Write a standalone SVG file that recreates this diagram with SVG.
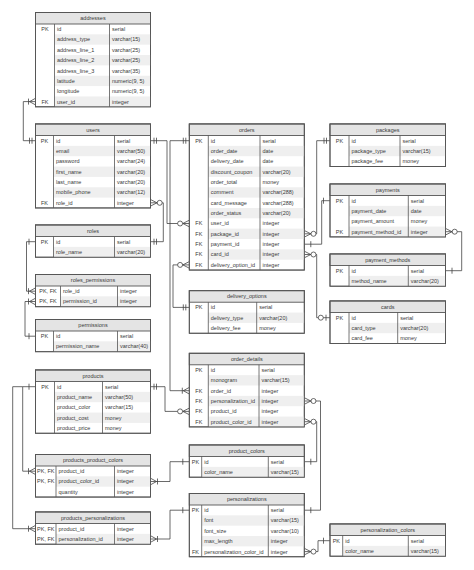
<svg xmlns="http://www.w3.org/2000/svg" width="474" height="570" viewBox="0 0 474 570">
<style>
text{font-family:"Liberation Sans",Arial,sans-serif;font-size:5.5px;fill:#3a3a3a}
.k,.h{text-anchor:middle}
.box{fill:#fff;stroke:#555;stroke-width:0.9}
.hd{fill:#e4e4e4;stroke:#555;stroke-width:0.9}
.alt{fill:#efefef}
.dv{stroke:#555;stroke-width:0.8;fill:none}
.cn path{fill:none;stroke:#444;stroke-width:0.8}
.mk{fill:none;stroke:#444;stroke-width:0.8}
.mc{fill:#fff;stroke:#444;stroke-width:0.8}
</style>
<defs>
<marker id="one2" viewBox="-14 -6 16 12" markerWidth="16" markerHeight="12" markerUnits="userSpaceOnUse" refX="0" refY="0" orient="auto-start-reverse"><path class="mk" d="M-3.5,-3V3M-6,-3V3"/></marker>
<marker id="one" viewBox="-14 -6 16 12" markerWidth="16" markerHeight="12" markerUnits="userSpaceOnUse" refX="0" refY="0" orient="auto-start-reverse"><path class="mk" d="M-6.5,-3V3"/></marker>
<marker id="many0" viewBox="-14 -6 16 12" markerWidth="16" markerHeight="12" markerUnits="userSpaceOnUse" refX="0" refY="0" orient="auto-start-reverse"><path class="mk" d="M0,-3.3L-6.5,0L0,3.3"/><circle class="mc" cx="-9.2" cy="0" r="2.5"/></marker>
<marker id="many1" viewBox="-14 -6 16 12" markerWidth="16" markerHeight="12" markerUnits="userSpaceOnUse" refX="0" refY="0" orient="auto-start-reverse"><path class="mk" d="M0,-3.3L-6,0L0,3.3M-7,-3V3"/></marker>
<marker id="zero1" viewBox="-14 -6 16 12" markerWidth="16" markerHeight="12" markerUnits="userSpaceOnUse" refX="0" refY="0" orient="auto-start-reverse"><path class="mk" d="M-4,-3V3"/><circle class="mc" cx="-9.2" cy="0" r="2.5"/></marker>
</defs>

<g class="cn" id="connectors">
<path d="M35.5,140.7H23.3V101.6H35.5" marker-start="url(#one2)" marker-end="url(#many1)"/>
<path d="M150.5,140.7H167V223.5H189.3" marker-start="url(#one2)" marker-end="url(#many0)"/>
<path d="M150.5,202.8H163.3V241.7H150.5" marker-start="url(#many0)" marker-end="url(#one2)"/>
<path d="M189.3,140.7H170V390.7H189.3" marker-start="url(#one2)" marker-end="url(#many1)"/>
<path d="M189.3,264.9H173V307.4H189.3" marker-start="url(#many0)" marker-end="url(#one2)"/>
<path d="M35.5,241.7H26.5V291.2H35.5" marker-start="url(#one)" marker-end="url(#many1)"/>
<path d="M35.5,336.2H25V301.5H35.5" marker-start="url(#one)" marker-end="url(#many1)"/>
<path d="M35.5,386.7H22.7V471.2H35.5" marker-start="url(#one)" marker-end="url(#many1)"/>
<path d="M22.7,386.7H12.7V528.7H35.5" marker-end="url(#many1)"/>
<path d="M150.5,386.7H165V411.4H189.3" marker-start="url(#one2)" marker-end="url(#many0)"/>
<path d="M189.3,461.7H170V481.5H150.5" marker-start="url(#one)" marker-end="url(#many1)"/>
<path d="M189.3,510.2H170V539H150.5" marker-start="url(#one)" marker-end="url(#many1)"/>
<path d="M304.3,461.7H316.7V421.7H304.3" marker-start="url(#one)" marker-end="url(#many0)"/>
<path d="M304.3,510.2H320.5V401H304.3" marker-start="url(#one)" marker-end="url(#many0)"/>
<path d="M330,540.7H318V551.6H304.3" marker-start="url(#one)" marker-end="url(#many0)"/>
<path d="M330,140.7H316.7V233.8H304.3" marker-start="url(#one2)" marker-end="url(#many0)"/>
<path d="M330,200.7H321.7V244.2H304.3" marker-start="url(#one)" marker-end="url(#one)"/>
<path d="M330,317.7H316.7V254.5H304.3" marker-start="url(#zero1)" marker-end="url(#many0)"/>
<path d="M445.5,270.7H461.7V231.7H445.5" marker-start="url(#one)" marker-end="url(#many0)"/>
</g>

<g id="addresses" transform="translate(35.5,12.5)">
<rect class="box" width="115" height="94.3"/>
<rect class="alt" x="19" y="21.85" width="96" height="10.35"/><rect class="alt" x="19" y="42.55" width="96" height="10.35"/><rect class="alt" x="19" y="63.25" width="96" height="10.35"/><rect class="alt" x="19" y="83.95" width="96" height="10.35"/>
<rect class="hd" width="115" height="11.5"/>
<path class="dv" d="M19,11.5V94.3M74,11.5V94.3"/>
<rect class="box" width="115" height="94.3" fill="none" style="fill:none"/>
<text class="h" x="57.5" y="7.65">addresses</text>
<text class="k" x="9.5" y="18.6">PK</text><text x="21.5" y="18.6">id</text><text x="76.5" y="18.6">serial</text>
<text x="21.5" y="28.9">address_type</text><text x="76.5" y="28.9">varchar(15)</text>
<text x="21.5" y="39.3">address_line_1</text><text x="76.5" y="39.3">varchar(25)</text>
<text x="21.5" y="49.6">address_line_2</text><text x="76.5" y="49.6">varchar(25)</text>
<text x="21.5" y="60">address_line_3</text><text x="76.5" y="60">varchar(35)</text>
<text x="21.5" y="70.3">latitude</text><text x="76.5" y="70.3">numeric(9, 5)</text>
<text x="21.5" y="80.7">longitude</text><text x="76.5" y="80.7">numeric(9, 5)</text>
<text class="k" x="9.5" y="91">FK</text><text x="21.5" y="91">user_id</text><text x="76.5" y="91">integer</text>
</g>

<g id="users" transform="translate(35.5,124)">
<rect class="box" width="115" height="83.95"/>
<rect class="alt" x="18" y="21.85" width="97" height="10.35"/><rect class="alt" x="18" y="42.55" width="97" height="10.35"/><rect class="alt" x="18" y="63.25" width="97" height="10.35"/>
<rect class="hd" width="115" height="11.5"/>
<path class="dv" d="M18,11.5V83.95M79,11.5V83.95"/>
<rect class="box" width="115" height="83.95" style="fill:none"/>
<text class="h" x="57.5" y="7.65">users</text>
<text class="k" x="9" y="18.6">PK</text><text x="20.5" y="18.6">id</text><text x="81.5" y="18.6">serial</text>
<text x="20.5" y="28.9">email</text><text x="81.5" y="28.9">varchar(50)</text>
<text x="20.5" y="39.3">password</text><text x="81.5" y="39.3">varchar(24)</text>
<text x="20.5" y="49.6">first_name</text><text x="81.5" y="49.6">varchar(20)</text>
<text x="20.5" y="60">last_name</text><text x="81.5" y="60">varchar(20)</text>
<text x="20.5" y="70.3">mobile_phone</text><text x="81.5" y="70.3">varchar(12)</text>
<text class="k" x="9" y="80.7">FK</text><text x="20.5" y="80.7">role_id</text><text x="81.5" y="80.7">integer</text>
</g>

<g id="roles" transform="translate(35.5,225)">
<rect class="box" width="115" height="32.2"/>
<rect class="alt" x="18" y="21.85" width="97" height="10.35"/>
<rect class="hd" width="115" height="11.5"/>
<path class="dv" d="M18,11.5V32.2M79,11.5V32.2"/>
<rect class="box" width="115" height="32.2" style="fill:none"/>
<text class="h" x="57.5" y="7.65">roles</text>
<text class="k" x="9" y="18.6">PK</text><text x="20.5" y="18.6">id</text><text x="81.5" y="18.6">serial</text>
<text x="20.5" y="28.9">role_name</text><text x="81.5" y="28.9">varchar(20)</text>
</g>

<g id="roles_permissions" transform="translate(35.5,274.5)">
<rect class="box" width="115" height="32.2"/>
<rect class="alt" x="25" y="21.85" width="90" height="10.35"/>
<rect class="hd" width="115" height="11.5"/>
<path class="dv" d="M25,11.5V32.2M82,11.5V32.2"/>
<rect class="box" width="115" height="32.2" style="fill:none"/>
<text class="h" x="57.5" y="7.65">roles_permissions</text>
<text class="k" x="12.5" y="18.6">PK, FK</text><text x="27.5" y="18.6">role_id</text><text x="84.5" y="18.6">integer</text>
<text class="k" x="12.5" y="28.9">PK, FK</text><text x="27.5" y="28.9">permission_id</text><text x="84.5" y="28.9">integer</text>
</g>

<g id="permissions" transform="translate(35.5,319.5)">
<rect class="box" width="115" height="32.2"/>
<rect class="alt" x="18" y="21.85" width="97" height="10.35"/>
<rect class="hd" width="115" height="11.5"/>
<path class="dv" d="M18,11.5V32.2M82,11.5V32.2"/>
<rect class="box" width="115" height="32.2" style="fill:none"/>
<text class="h" x="57.5" y="7.65">permissions</text>
<text class="k" x="9" y="18.6">PK</text><text x="20.5" y="18.6">id</text><text x="84.5" y="18.6">serial</text>
<text x="20.5" y="28.9">permission_name</text><text x="84.5" y="28.9">varchar(40)</text>
</g>

<g id="products" transform="translate(35.5,370)">
<rect class="box" width="115" height="63.25"/>
<rect class="alt" x="19" y="21.85" width="96" height="10.35"/><rect class="alt" x="19" y="42.55" width="96" height="10.35"/>
<rect class="hd" width="115" height="11.5"/>
<path class="dv" d="M19,11.5V63.25M67,11.5V63.25"/>
<rect class="box" width="115" height="63.25" style="fill:none"/>
<text class="h" x="57.5" y="7.65">products</text>
<text class="k" x="9.5" y="18.6">PK</text><text x="21.5" y="18.6">id</text><text x="69.5" y="18.6">serial</text>
<text x="21.5" y="28.9">product_name</text><text x="69.5" y="28.9">varchar(50)</text>
<text x="21.5" y="39.3">product_color</text><text x="69.5" y="39.3">varchar(15)</text>
<text x="21.5" y="49.6">product_cost</text><text x="69.5" y="49.6">money</text>
<text x="21.5" y="60">product_price</text><text x="69.5" y="60">money</text>
</g>

<g id="products_product_colors" transform="translate(35.5,454.5)">
<rect class="box" width="115" height="42.55"/>
<rect class="alt" x="20.5" y="21.85" width="94.5" height="10.35"/>
<rect class="hd" width="115" height="11.5"/>
<path class="dv" d="M20.5,11.5V42.55M79,11.5V42.55"/>
<rect class="box" width="115" height="42.55" style="fill:none"/>
<text class="h" x="57.5" y="7.65">products_product_colors</text>
<text class="k" x="10.3" y="18.6">PK, FK</text><text x="23" y="18.6">product_id</text><text x="81.5" y="18.6">integer</text>
<text class="k" x="10.3" y="28.9">PK, FK</text><text x="23" y="28.9">product_color_id</text><text x="81.5" y="28.9">integer</text>
<text x="23" y="39.3">quantity</text><text x="81.5" y="39.3">integer</text>
</g>

<g id="products_personalizations" transform="translate(35.5,512)">
<rect class="box" width="115" height="32.2"/>
<rect class="alt" x="20.5" y="21.85" width="94.5" height="10.35"/>
<rect class="hd" width="115" height="11.5"/>
<path class="dv" d="M20.5,11.5V32.2M79,11.5V32.2"/>
<rect class="box" width="115" height="32.2" style="fill:none"/>
<text class="h" x="57.5" y="7.65">products_personalizations</text>
<text class="k" x="10.3" y="18.6">PK, FK</text><text x="23" y="18.6">product_id</text><text x="81.5" y="18.6">integer</text>
<text class="k" x="10.3" y="28.9">PK, FK</text><text x="23" y="28.9">personalization_id</text><text x="81.5" y="28.9">integer</text>
</g>

<g id="orders" transform="translate(189.3,124)">
<rect class="box" width="115" height="146.05"/>
<rect class="alt" x="19" y="21.85" width="96" height="10.35"/><rect class="alt" x="19" y="42.55" width="96" height="10.35"/><rect class="alt" x="19" y="63.25" width="96" height="10.35"/><rect class="alt" x="19" y="83.95" width="96" height="10.35"/><rect class="alt" x="19" y="104.65" width="96" height="10.35"/><rect class="alt" x="19" y="125.35" width="96" height="10.35"/>
<rect class="hd" width="115" height="11.5"/>
<path class="dv" d="M19,11.5V146.05M70.7,11.5V146.05"/>
<rect class="box" width="115" height="146.05" style="fill:none"/>
<text class="h" x="57.5" y="7.65">orders</text>
<text class="k" x="9.5" y="18.6">PK</text><text x="21.5" y="18.6">id</text><text x="73.2" y="18.6">serial</text>
<text x="21.5" y="28.9">order_date</text><text x="73.2" y="28.9">date</text>
<text x="21.5" y="39.3">delivery_date</text><text x="73.2" y="39.3">date</text>
<text x="21.5" y="49.6">discount_coupon</text><text x="73.2" y="49.6">varchar(20)</text>
<text x="21.5" y="60">order_total</text><text x="73.2" y="60">money</text>
<text x="21.5" y="70.3">comment</text><text x="73.2" y="70.3">varchar(288)</text>
<text x="21.5" y="80.7">card_message</text><text x="73.2" y="80.7">varchar(288)</text>
<text x="21.5" y="91">order_status</text><text x="73.2" y="91">varchar(20)</text>
<text class="k" x="9.5" y="101.4">FK</text><text x="21.5" y="101.4">user_id</text><text x="73.2" y="101.4">integer</text>
<text class="k" x="9.5" y="111.7">FK</text><text x="21.5" y="111.7">package_id</text><text x="73.2" y="111.7">integer</text>
<text class="k" x="9.5" y="122.1">FK</text><text x="21.5" y="122.1">payment_id</text><text x="73.2" y="122.1">integer</text>
<text class="k" x="9.5" y="132.4">FK</text><text x="21.5" y="132.4">card_id</text><text x="73.2" y="132.4">integer</text>
<text class="k" x="9.5" y="142.8">FK</text><text x="21.5" y="142.8">delivery_option_id</text><text x="73.2" y="142.8">integer</text>
</g>

<g id="delivery_options" transform="translate(189.3,290.7)">
<rect class="box" width="115" height="42.55"/>
<rect class="alt" x="19" y="21.85" width="96" height="10.35"/>
<rect class="hd" width="115" height="11.5"/>
<path class="dv" d="M19,11.5V42.55M67.4,11.5V42.55"/>
<rect class="box" width="115" height="42.55" style="fill:none"/>
<text class="h" x="57.5" y="7.65">delivery_options</text>
<text class="k" x="9.5" y="18.6">PK</text><text x="21.5" y="18.6">id</text><text x="69.9" y="18.6">serial</text>
<text x="21.5" y="28.9">delivery_type</text><text x="69.9" y="28.9">varchar(20)</text>
<text x="21.5" y="39.3">delivery_fee</text><text x="69.9" y="39.3">money</text>
</g>

<g id="order_details" transform="translate(189.3,353.3)">
<rect class="box" width="115" height="73.6"/>
<rect class="alt" x="19" y="21.85" width="96" height="10.35"/><rect class="alt" x="19" y="42.55" width="96" height="10.35"/><rect class="alt" x="19" y="63.25" width="96" height="10.35"/>
<rect class="hd" width="115" height="11.5"/>
<path class="dv" d="M19,11.5V73.6M69.7,11.5V73.6"/>
<rect class="box" width="115" height="73.6" style="fill:none"/>
<text class="h" x="57.5" y="7.65">order_details</text>
<text class="k" x="9.5" y="18.6">PK</text><text x="21.5" y="18.6">id</text><text x="72.2" y="18.6">serial</text>
<text x="21.5" y="28.9">monogram</text><text x="72.2" y="28.9">varchar(15)</text>
<text class="k" x="9.5" y="39.3">FK</text><text x="21.5" y="39.3">order_id</text><text x="72.2" y="39.3">integer</text>
<text class="k" x="9.5" y="49.6">FK</text><text x="21.5" y="49.6">personalization_id</text><text x="72.2" y="49.6">integer</text>
<text class="k" x="9.5" y="60">FK</text><text x="21.5" y="60">product_id</text><text x="72.2" y="60">integer</text>
<text class="k" x="9.5" y="70.3">FK</text><text x="21.5" y="70.3">product_color_id</text><text x="72.2" y="70.3">integer</text>
</g>

<g id="product_colors" transform="translate(189.3,445)">
<rect class="box" width="115" height="32.2"/>
<rect class="alt" x="12.4" y="21.85" width="102.6" height="10.35"/>
<rect class="hd" width="115" height="11.5"/>
<path class="dv" d="M12.4,11.5V32.2M79,11.5V32.2"/>
<rect class="box" width="115" height="32.2" style="fill:none"/>
<text class="h" x="57.5" y="7.65">product_colors</text>
<text class="k" x="6.2" y="18.6">PK</text><text x="14.9" y="18.6">id</text><text x="81.5" y="18.6">serial</text>
<text x="14.9" y="28.9">color_name</text><text x="81.5" y="28.9">varchar(15)</text>
</g>

<g id="personalizations" transform="translate(189.3,493.5)">
<rect class="box" width="115" height="63.25"/>
<rect class="alt" x="12.4" y="21.85" width="102.6" height="10.35"/><rect class="alt" x="12.4" y="42.55" width="102.6" height="10.35"/>
<rect class="hd" width="115" height="11.5"/>
<path class="dv" d="M12.4,11.5V63.25M79,11.5V63.25"/>
<rect class="box" width="115" height="63.25" style="fill:none"/>
<text class="h" x="57.5" y="7.65">personalizations</text>
<text class="k" x="6.2" y="18.6">PK</text><text x="14.9" y="18.6">id</text><text x="81.5" y="18.6">serial</text>
<text x="14.9" y="28.9">font</text><text x="81.5" y="28.9">varchar(15)</text>
<text x="14.9" y="39.3">font_size</text><text x="81.5" y="39.3">varchar(10)</text>
<text x="14.9" y="49.6">max_length</text><text x="81.5" y="49.6">integer</text>
<text class="k" x="6.2" y="60">FK</text><text x="14.9" y="60">personalization_color_id</text><text x="81.5" y="60">integer</text>
</g>

<g id="packages" transform="translate(330,124)">
<rect class="box" width="115.5" height="42.55"/>
<rect class="alt" x="19" y="21.85" width="96.5" height="10.35"/>
<rect class="hd" width="115.5" height="11.5"/>
<path class="dv" d="M19,11.5V42.55M70,11.5V42.55"/>
<rect class="box" width="115.5" height="42.55" style="fill:none"/>
<text class="h" x="57.75" y="7.65">packages</text>
<text class="k" x="9.5" y="18.6">PK</text><text x="21.5" y="18.6">id</text><text x="72.5" y="18.6">serial</text>
<text x="21.5" y="28.9">package_type</text><text x="72.5" y="28.9">varchar(15)</text>
<text x="21.5" y="39.3">package_fee</text><text x="72.5" y="39.3">money</text>
</g>

<g id="payments" transform="translate(330,184)">
<rect class="box" width="115.5" height="52.9"/>
<rect class="alt" x="19" y="21.85" width="96.5" height="10.35"/><rect class="alt" x="19" y="42.55" width="96.5" height="10.35"/>
<rect class="hd" width="115.5" height="11.5"/>
<path class="dv" d="M19,11.5V52.9M78.3,11.5V52.9"/>
<rect class="box" width="115.5" height="52.9" style="fill:none"/>
<text class="h" x="57.75" y="7.65">payments</text>
<text class="k" x="9.5" y="18.6">PK</text><text x="21.5" y="18.6">id</text><text x="80.8" y="18.6">serial</text>
<text x="21.5" y="28.9">payment_date</text><text x="80.8" y="28.9">date</text>
<text x="21.5" y="39.3">payment_amount</text><text x="80.8" y="39.3">money</text>
<text class="k" x="9.5" y="49.6">PK</text><text x="21.5" y="49.6">payment_method_id</text><text x="80.8" y="49.6">integer</text>
</g>

<g id="payment_methods" transform="translate(330,254)">
<rect class="box" width="115.5" height="32.2"/>
<rect class="alt" x="19" y="21.85" width="96.5" height="10.35"/>
<rect class="hd" width="115.5" height="11.5"/>
<path class="dv" d="M19,11.5V32.2M78.3,11.5V32.2"/>
<rect class="box" width="115.5" height="32.2" style="fill:none"/>
<text class="h" x="57.75" y="7.65">payment_methods</text>
<text class="k" x="9.5" y="18.6">PK</text><text x="21.5" y="18.6">id</text><text x="80.8" y="18.6">serial</text>
<text x="21.5" y="28.9">method_name</text><text x="80.8" y="28.9">varchar(20)</text>
</g>

<g id="cards" transform="translate(330,301)">
<rect class="box" width="115.5" height="42.55"/>
<rect class="alt" x="19" y="21.85" width="96.5" height="10.35"/>
<rect class="hd" width="115.5" height="11.5"/>
<path class="dv" d="M19,11.5V42.55M67.7,11.5V42.55"/>
<rect class="box" width="115.5" height="42.55" style="fill:none"/>
<text class="h" x="57.75" y="7.65">cards</text>
<text class="k" x="9.5" y="18.6">PK</text><text x="21.5" y="18.6">id</text><text x="70.2" y="18.6">serial</text>
<text x="21.5" y="28.9">card_type</text><text x="70.2" y="28.9">varchar(20)</text>
<text x="21.5" y="39.3">card_fee</text><text x="70.2" y="39.3">money</text>
</g>

<g id="personalization_colors" transform="translate(330,524)">
<rect class="box" width="115.5" height="32.2"/>
<rect class="alt" x="12.7" y="21.85" width="102.8" height="10.35"/>
<rect class="hd" width="115.5" height="11.5"/>
<path class="dv" d="M12.7,11.5V32.2M78.3,11.5V32.2"/>
<rect class="box" width="115.5" height="32.2" style="fill:none"/>
<text class="h" x="57.75" y="7.65">personalization_colors</text>
<text class="k" x="6.35" y="18.6">PK</text><text x="15.2" y="18.6">id</text><text x="80.8" y="18.6">serial</text>
<text x="15.2" y="28.9">color_name</text><text x="80.8" y="28.9">varchar(15)</text>
</g>
</svg>
